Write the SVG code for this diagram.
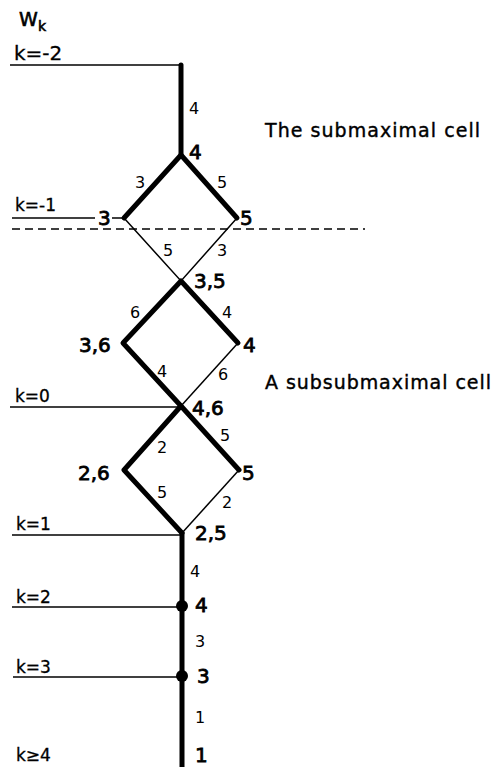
<svg xmlns="http://www.w3.org/2000/svg" width="492" height="767" viewBox="0 0 492 767">
<style>
text{font-family:"DejaVu Sans","Liberation Sans",sans-serif;fill:#000}
.e{font-size:16px}
.v{font-size:20px;stroke:#000;stroke-width:0.8}
.k{font-size:17px;stroke:#000;stroke-width:0.3}
.t{font-size:19px;stroke:#000;stroke-width:0.4}
.thick{stroke:#000;stroke-width:5;fill:none;stroke-linecap:round;stroke-linejoin:round}
.thin{stroke:#000;stroke-width:1.5;fill:none}
.dash{stroke:#000;stroke-width:1.5;fill:none;stroke-dasharray:8 5}
</style>
<rect width="492" height="767" fill="#fff"/>
<g id="levels">
<line class="thin" x1="10" y1="65" x2="181" y2="65"/>
<line class="thin" x1="12" y1="218" x2="95" y2="218"/>
<line class="thin" x1="112" y1="218" x2="124" y2="218"/>
<line class="dash" x1="12" y1="229" x2="365" y2="229"/>
<line class="thin" x1="10" y1="407" x2="181" y2="407"/>
<line class="thin" x1="12" y1="535" x2="182" y2="535"/>
<line class="thin" x1="12" y1="607" x2="182" y2="607"/>
<line class="thin" x1="13" y1="677" x2="182" y2="677"/>
</g>
<g id="connectors">
<line class="thick" x1="181" y1="65" x2="181" y2="155"/>
<polyline class="thick" points="124,218 181,155 237,218"/>
<polyline class="thin" points="124,218 181,281 237,218"/>
<polyline class="thick" points="181,406 123,343 181,281 238,343"/>
<line class="thin" x1="238" y1="343" x2="181" y2="406"/>
<polyline class="thick" points="182,533 124,470 181,406 239,470"/>
<line class="thin" x1="239" y1="470" x2="182" y2="533"/>
<line class="thick" x1="182" y1="533" x2="182" y2="770"/>
</g>
<g id="dots">
<circle cx="182" cy="606" r="6"/>
<circle cx="182" cy="676" r="6"/>
</g>
<g id="labels-left">
<text x="19" y="26" font-size="19" stroke="#000" stroke-width="0.6">W</text>
<text x="38" y="31" font-size="14" stroke="#000" stroke-width="0.6">k</text>
<text class="k" x="14" y="60" style="font-size:20px">k=-2</text>
<text class="k" x="15" y="211">k=-1</text>
<text class="k" x="15" y="402">k=0</text>
<text class="k" x="16" y="530">k=1</text>
<text class="k" x="16" y="603">k=2</text>
<text class="k" x="16" y="673">k=3</text>
<text class="k" x="16" y="761">k≥4</text>
</g>
<g id="vertex-labels">
<text class="v" x="189" y="159">4</text>
<text class="v" x="98" y="225">3</text>
<text class="v" x="240" y="225">5</text>
<text class="v" x="194" y="288">3,5</text>
<text class="v" x="79" y="352">3,6</text>
<text class="v" x="243" y="352">4</text>
<text class="v" x="192" y="415">4,6</text>
<text class="v" x="78" y="480">2,6</text>
<text class="v" x="242" y="480">5</text>
<text class="v" x="195" y="540">2,5</text>
<text class="v" x="195" y="612">4</text>
<text class="v" x="197" y="683">3</text>
<text class="v" x="195" y="762">1</text>
</g>
<g id="edge-labels">
<text class="e" x="189" y="114">4</text>
<text class="e" x="135" y="188">3</text>
<text class="e" x="217" y="188">5</text>
<text class="e" x="163" y="256">5</text>
<text class="e" x="217" y="256">3</text>
<text class="e" x="130" y="318">6</text>
<text class="e" x="222" y="318">4</text>
<text class="e" x="157" y="377">4</text>
<text class="e" x="218" y="380">6</text>
<text class="e" x="220" y="441">5</text>
<text class="e" x="157" y="453">2</text>
<text class="e" x="157" y="498">5</text>
<text class="e" x="222" y="508">2</text>
<text class="e" x="190" y="577">4</text>
<text class="e" x="195" y="647">3</text>
<text class="e" x="195" y="723">1</text>
</g>
<g id="titles">
<text class="t" x="265" y="137" textLength="215" lengthAdjust="spacing">The submaximal cell</text>
<text class="t" x="265" y="389" textLength="226" lengthAdjust="spacing">A subsubmaximal cell</text>
</g>
</svg>
